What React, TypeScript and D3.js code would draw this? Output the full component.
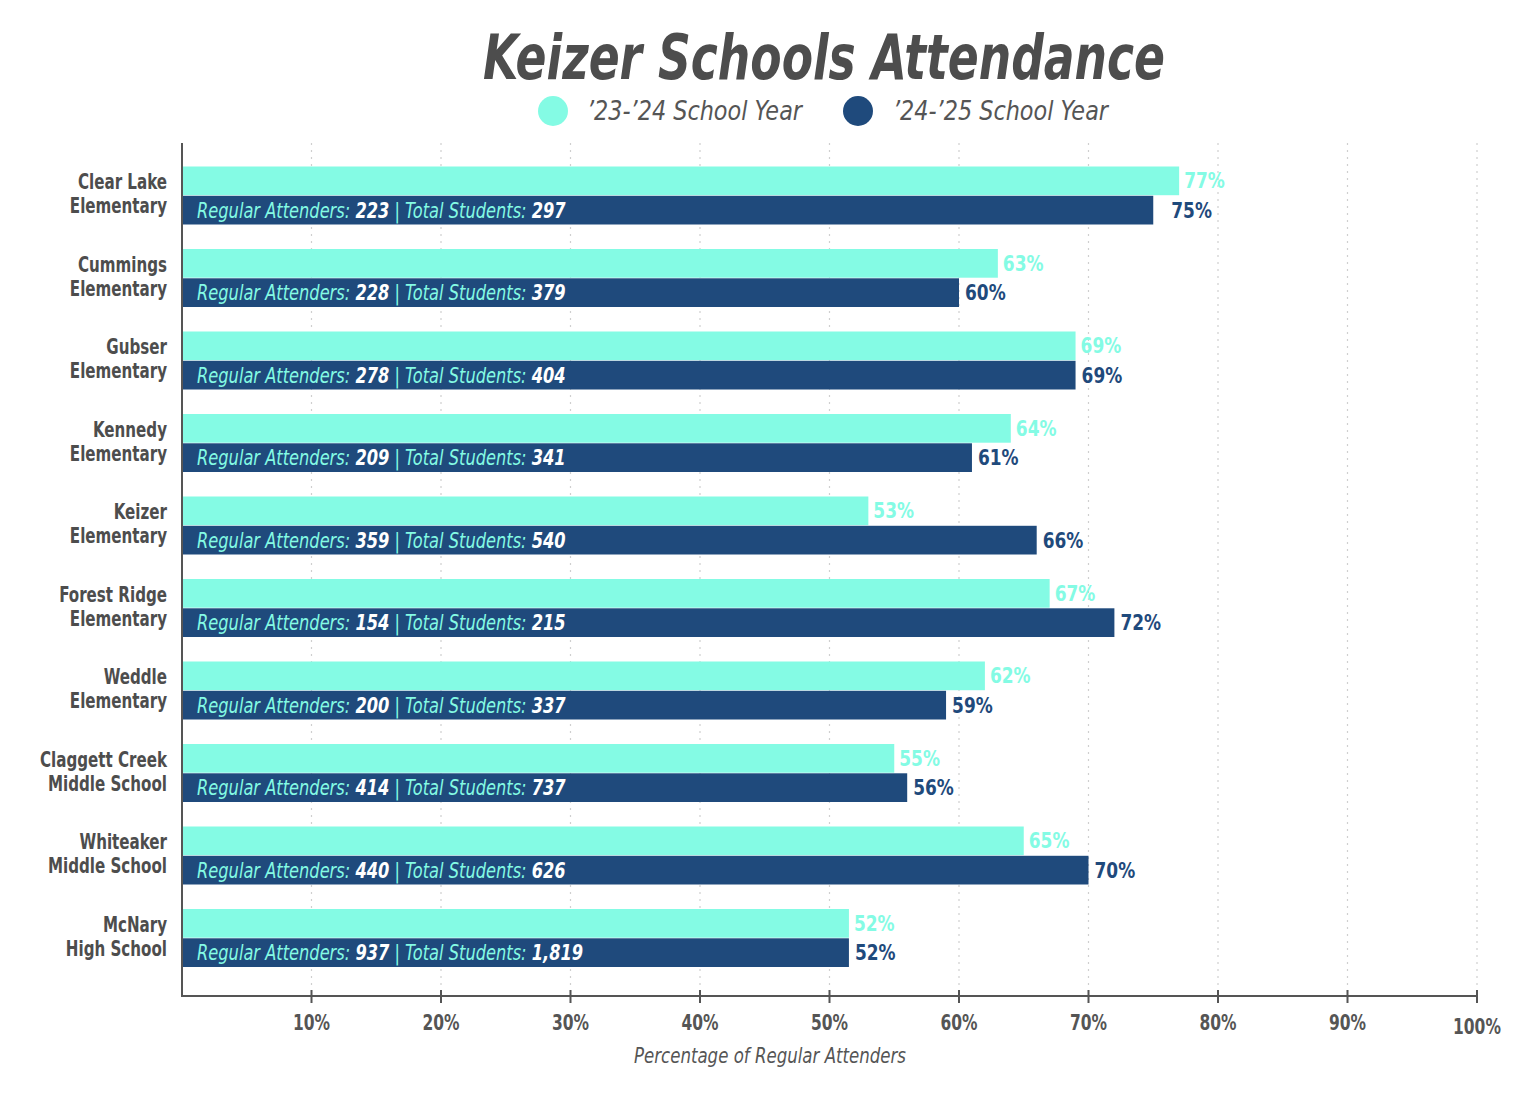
import React from "react";
import * as d3 from "d3";

// school names, split over two lines as on the chart
const schools = [
  ["Clear Lake", "Elementary"],
  ["Cummings", "Elementary"],
  ["Gubser", "Elementary"],
  ["Kennedy", "Elementary"],
  ["Keizer", "Elementary"],
  ["Forest Ridge", "Elementary"],
  ["Weddle", "Elementary"],
  ["Claggett Creek", "Middle School"],
  ["Whiteaker", "Middle School"],
  ["McNary", "High School"],
];

const prevYear = [77, 63, 69, 64, 53, 67, 62, 55, 65, 51.5]; // '23-'24
const currYear = [75, 60, 69, 61, 66, 72, 59, 56, 70, 51.5]; // '24-'25
const prevLabels = ["77%", "63%", "69%", "64%", "53%", "67%", "62%", "55%", "65%", "52%"];
const currLabels = ["75%", "60%", "69%", "61%", "66%", "72%", "59%", "56%", "70%", "52%"];
const regularAttenders = ["223", "228", "278", "209", "359", "154", "200", "414", "440", "937"];
const totalStudents = ["297", "379", "404", "341", "540", "215", "337", "737", "626", "1,819"];
const xTicks = [10, 20, 30, 40, 50, 60, 70, 80, 90, 100];

const TEAL = "#84fbe4";
const NAVY = "#1f4a7c";
const GRAY = "#4d4d4d";
const FONT = "'Liberation Sans Narrow', 'DejaVu Sans Condensed', 'Roboto', sans-serif";

// squeeze text horizontally so it reads like the condensed face of the original
const CText = ({ x, y, sx = 0.82, children, ...rest }: any) => (
  <text transform={`translate(${x},${y}) scale(${sx},1)`} {...rest}>
    {children}
  </text>
);

export default function App() {
  const width = 1536;
  const height = 1101;
  const x = d3.scaleLinear().domain([0, 100]).range([182, 1477]);
  const names = schools.map((s) => s.join(" "));
  const y = d3.scaleBand().domain(names).range([154.25, 979.25]).padding(0);
  const inner = d3.scaleBand().domain(["prev", "curr"]).range([0, 58]).paddingInner(0.02);
  const axisY = 996;
  const plotTop = 143;

  return (
    <svg
      width={width}
      height={height}
      style={{ position: "absolute", left: 0, top: 0, background: "#fff" }}
      fontFamily={FONT}
    >
      {/* title */}
      <text
        x={824}
        y={79}
        textAnchor="middle"
        fontSize={62}
        fontWeight="bold"
        fontStyle="italic"
        fill={GRAY}
        textLength={682}
        lengthAdjust="spacingAndGlyphs"
      >
        Keizer Schools Attendance
      </text>

      {/* legend */}
      <circle cx={553} cy={111} r={15} fill={TEAL} />
      <text x={587} y={120} fontSize={27} fontStyle="italic" fill="#555" textLength={215} lengthAdjust="spacingAndGlyphs">
        ’23-’24 School Year
      </text>
      <circle cx={858} cy={111} r={15} fill={NAVY} />
      <text x={893} y={120} fontSize={27} fontStyle="italic" fill="#555" textLength={215} lengthAdjust="spacingAndGlyphs">
        ’24-’25 School Year
      </text>

      {/* grid lines */}
      {xTicks.map((t) => (
        <line
          key={"g" + t}
          x1={x(t)}
          x2={x(t)}
          y1={plotTop}
          y2={axisY}
          stroke="#cfcfcf"
          strokeWidth={1.2}
          strokeDasharray="2 5"
        />
      ))}

      {/* bars */}
      {names.map((n, i) => {
        const y0 = y(n)! + (y.bandwidth() - 58) / 2;
        const yp = y0 + inner("prev")!;
        const yc = y0 + inner("curr")!;
        const h = inner.bandwidth();
        return (
          <g key={n}>
            <rect x={x(0)} y={yp} width={x(prevYear[i]) - x(0)} height={h} fill={TEAL} />
            <rect x={x(0)} y={yc} width={x(currYear[i]) - x(0)} height={h} fill={NAVY} />
            <CText
              x={x(prevYear[i]) + 5}
              y={yp + h / 2 + 7.5}
              sx={0.9}
              fontSize={21}
              fontWeight="bold"
              fill={TEAL}
            >
              {prevLabels[i]}
            </CText>
            <CText
              x={x(currYear[i]) + (i === 0 ? 18 : 6)}
              y={yc + h / 2 + 7.5}
              sx={0.9}
              fontSize={21}
              fontWeight="bold"
              fill={NAVY}
            >
              {currLabels[i]}
            </CText>
            <CText x={x(0) + 15} y={yc + h / 2 + 7.5} sx={0.86} fontSize={21} fontStyle="italic" fill={TEAL}>
              Regular Attenders:{" "}
              <tspan fontWeight="bold" fill="#fff">{regularAttenders[i]}</tspan>
              {" | Total Students: "}
              <tspan fontWeight="bold" fill="#fff">{totalStudents[i]}</tspan>
            </CText>
            {/* category label */}
            <CText x={167} y={y0} sx={0.8} textAnchor="end" fontSize={21} fontWeight="bold" fill={GRAY}>
              <tspan x={0} y={23}>{schools[i][0]}</tspan>
              <tspan x={0} y={47}>{schools[i][1]}</tspan>
            </CText>
          </g>
        );
      })}

      {/* axes */}
      <line x1={182} x2={182} y1={plotTop} y2={axisY} stroke="#555" strokeWidth={2} />
      <line x1={181} x2={1478} y1={axisY} y2={axisY} stroke="#555" strokeWidth={2} />
      {xTicks.map((t) => (
        <g key={"t" + t}>
          <line x1={x(t)} x2={x(t)} y1={axisY - 6} y2={axisY + 7} stroke="#555" strokeWidth={2} />
          <CText
            x={x(t)}
            y={t === 100 ? 1034 : 1030}
            sx={0.82}
            textAnchor="middle"
            fontSize={21}
            fontWeight="bold"
            fill="#555"
          >
            {t}%
          </CText>
        </g>
      ))}
      <text
        x={770}
        y={1063}
        textAnchor="middle"
        fontSize={21}
        fontStyle="italic"
        fill="#555"
        textLength={272}
        lengthAdjust="spacingAndGlyphs"
      >
        Percentage of Regular Attenders
      </text>
    </svg>
  );
}
